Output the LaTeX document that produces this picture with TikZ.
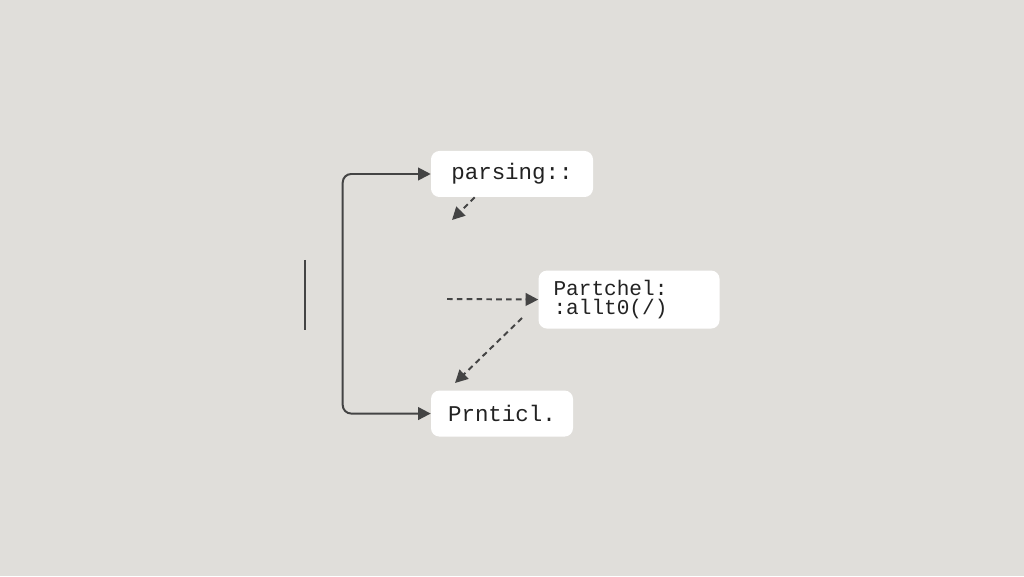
\documentclass[tikz,border=0pt]{standalone}
\usepackage{tikz}
\usetikzlibrary{shapes, arrows, arrows.meta, calc, positioning}
\usepackage{fontspec}
\setmonofont{Liberation Mono}
\usepackage{xcolor}
\definecolor{paper}{HTML}{E0DEDA}
\definecolor{ink}{HTML}{444444}
\definecolor{textink}{HTML}{222222}

\begin{document}
\begin{tikzpicture}
        \tikzstyle{vertex}=[fill=white, rounded corners=6pt, inner sep=4pt, minimum height=1.15cm, font=\ttfamily\fontsize{16}{14}\selectfont, text=textink]
        \tikzstyle{arrow} = [->, line width=1.4pt, draw=ink, >={Triangle[length=9pt,width=9pt]}]
        \tikzstyle{dasharrow} = [arrow, dash pattern=on 4pt off 3pt]

        \fill[paper] (0,0) rectangle (25.6,14.4);
        \useasboundingbox (0,0) rectangle (25.6,14.4);

        \node[vertex, minimum width=4.05cm] (parsing) at (12.8,10.05) {parsing::};
        \node[vertex, below right = 1.825cm and -1.375cm of parsing, minimum height=1.45cm, text width=3.775cm, inner xsep=0.375cm, align=left, font=\ttfamily\fontsize{15}{13.5}\selectfont] (partchel) {Partchel:\\:allt0(/)};
        \node[vertex, minimum width=3.55cm, below = 4.825cm of parsing.south west, anchor=north west] (prnticl) {Prnticl.};

        %\node[draw, line width=1pt] (Corner) {};
        \coordinate (tick top) at (7.625,7.9);
        \coordinate (tick bottom) at (7.625,6.15);
        \coordinate (d1 start) at ($(parsing.south west)+(1.1,0)$);
        \coordinate (d1 end) at (11.3,8.9);
        \coordinate (d2 start) at (11.175,6.925);
        \coordinate (d3 start) at (13.05,6.45);
        \coordinate (d3 end) at (11.375,4.825);

        \draw[arrow, <->, rounded corners=6pt] (parsing.west) -- ++(-2.2,0) |- (prnticl.west);
        \draw[line width=1.4pt, draw=ink] (tick top) -- (tick bottom);
        \draw[dasharrow] (d1 start) -- (d1 end);
        \draw[dasharrow] (d2 start) -- (partchel.west);
        \draw[dasharrow] (d3 start) -- (d3 end);
    \end{tikzpicture}
\end{document}
